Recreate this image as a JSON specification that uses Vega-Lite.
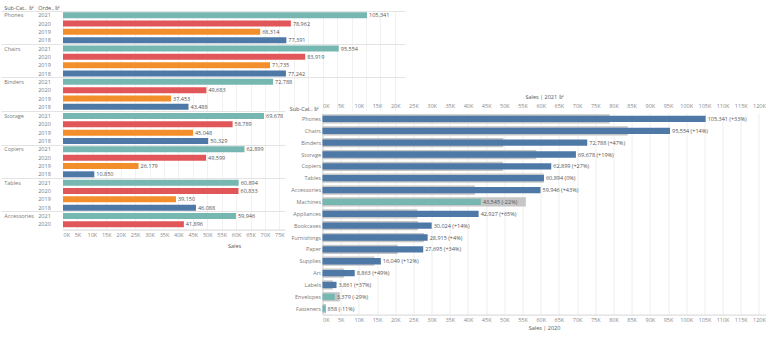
{
  "$schema": "https://vega.github.io/schema/vega-lite/v6.json",
  "padding": {"top": 5, "left": 0, "right": 0, "bottom": 0},
  "autosize": {"type": "pad"},
  "bounds": "full",
  "spacing": -17,
  "config": {
    "font": "Open Sans",
    "view": {"stroke": null},
    "axis": {"labelFontSize": 5.5, "titleFontSize": 5.5, "titleFontWeight": "normal", "labelColor": "#7a7a7a", "titleColor": "#555555", "labelOverlap": false, "ticks": false, "domain": false, "grid": false, "labelBound": false, "labelLimit": 300},
    "text": {"fontSize": 5.5}
  },
  "datasets": {
    "leftTop": [
      {"key": "Phones|2021", "sub": "Phones", "year": "2021", "sales": 105341},
      {"key": "Phones|2020", "sub": "Phones", "year": "2020", "sales": 78962},
      {"key": "Phones|2019", "sub": "Phones", "year": "2019", "sales": 68314},
      {"key": "Phones|2018", "sub": "Phones", "year": "2018", "sales": 77391},
      {"key": "Chairs|2021", "sub": "Chairs", "year": "2021", "sales": 95554},
      {"key": "Chairs|2020", "sub": "Chairs", "year": "2020", "sales": 83919},
      {"key": "Chairs|2019", "sub": "Chairs", "year": "2019", "sales": 71735},
      {"key": "Chairs|2018", "sub": "Chairs", "year": "2018", "sales": 77242},
      {"key": "Binders|2021", "sub": "Binders", "year": "2021", "sales": 72788},
      {"key": "Binders|2020", "sub": "Binders", "year": "2020", "sales": 49683},
      {"key": "Binders|2019", "sub": "Binders", "year": "2019", "sales": 37453},
      {"key": "Binders|2018", "sub": "Binders", "year": "2018", "sales": 43488}
    ],
    "leftBottom": [
      {"key": "Storage|2021", "sub": "Storage", "year": "2021", "sales": 69678},
      {"key": "Storage|2020", "sub": "Storage", "year": "2020", "sales": 58789},
      {"key": "Storage|2019", "sub": "Storage", "year": "2019", "sales": 45048},
      {"key": "Storage|2018", "sub": "Storage", "year": "2018", "sales": 50329},
      {"key": "Copiers|2021", "sub": "Copiers", "year": "2021", "sales": 62899},
      {"key": "Copiers|2020", "sub": "Copiers", "year": "2020", "sales": 49599},
      {"key": "Copiers|2019", "sub": "Copiers", "year": "2019", "sales": 26179},
      {"key": "Copiers|2018", "sub": "Copiers", "year": "2018", "sales": 10850},
      {"key": "Tables|2021", "sub": "Tables", "year": "2021", "sales": 60894},
      {"key": "Tables|2020", "sub": "Tables", "year": "2020", "sales": 60833},
      {"key": "Tables|2019", "sub": "Tables", "year": "2019", "sales": 39150},
      {"key": "Tables|2018", "sub": "Tables", "year": "2018", "sales": 46088},
      {"key": "Accessories|2021", "sub": "Accessories", "year": "2021", "sales": 59946},
      {"key": "Accessories|2020", "sub": "Accessories", "year": "2020", "sales": 41896}
    ],
    "right": [
      {"sub": "Phones", "s2021": 105341, "s2020": 78962, "change": 33, "label": "105,341 (+33%)"},
      {"sub": "Chairs", "s2021": 95554, "s2020": 83919, "change": 14, "label": "95,554 (+14%)"},
      {"sub": "Binders", "s2021": 72788, "s2020": 49683, "change": 47, "label": "72,788 (+47%)"},
      {"sub": "Storage", "s2021": 69678, "s2020": 58789, "change": 19, "label": "69,678 (+19%)"},
      {"sub": "Copiers", "s2021": 62899, "s2020": 49599, "change": 27, "label": "62,899 (+27%)"},
      {"sub": "Tables", "s2021": 60894, "s2020": 60833, "change": 0, "label": "60,894 (0%)"},
      {"sub": "Accessories", "s2021": 59946, "s2020": 41896, "change": 43, "label": "59,946 (+43%)"},
      {"sub": "Machines", "s2021": 43545, "s2020": 55906, "change": -22, "label": "43,545 (-22%)"},
      {"sub": "Appliances", "s2021": 42927, "s2020": 26050, "change": 65, "label": "42,927 (+65%)"},
      {"sub": "Bookcases", "s2021": 30024, "s2020": 26275, "change": 14, "label": "30,024 (+14%)"},
      {"sub": "Furnishings", "s2021": 28915, "s2020": 27874, "change": 4, "label": "28,915 (+4%)"},
      {"sub": "Paper", "s2021": 27695, "s2020": 20662, "change": 34, "label": "27,695 (+34%)"},
      {"sub": "Supplies", "s2021": 16049, "s2020": 14278, "change": 12, "label": "16,049 (+12%)"},
      {"sub": "Art", "s2021": 8863, "s2020": 5961, "change": 49, "label": "8,863 (+49%)"},
      {"sub": "Labels", "s2021": 3861, "s2020": 2827, "change": 37, "label": "3,861 (+37%)"},
      {"sub": "Envelopes", "s2021": 3379, "s2020": 4731, "change": -29, "label": "3,379 (-29%)"},
      {"sub": "Fasteners", "s2021": 858, "s2020": 960, "change": -11, "label": "858 (-11%)"}
    ]
  },
  "vconcat": [
    {
      "width": 342,
      "height": 100,
      "data": {"name": "leftTop"},
      "encoding": {
        "x": {"field": "sales", "type": "quantitative", "scale": {"domain": [0, 118500], "nice": false, "zero": true},
              "axis": {"values": [0, 5000, 10000, 15000, 20000, 25000, 30000, 35000, 40000, 45000, 50000, 55000, 60000, 65000, 70000, 75000, 80000, 85000, 90000, 95000, 100000, 105000, 110000, 115000], "grid": true, "gridColor": "#f1f1f1", "labels": false, "domain": false, "title": null}},
        "y": {"field": "key", "type": "nominal", "sort": null, "scale": {"paddingInner": 0.28, "paddingOuter": 0.14}, "axis": null}
      },
      "layer": [
        {
          "mark": {"type": "bar"},
          "encoding": {
            "y": {"field": "key", "type": "nominal", "sort": null, "scale": {"paddingInner": 0.28, "paddingOuter": 0.14},
                  "axis": {"orient": "left", "labelAlign": "left", "labelPadding": 25.3, "labelBaseline": "middle", "labelExpr": "split(datum.label,'|')[1]", "title": "Orde.. ⊮", "titleAngle": 0, "titleAlign": "left", "titleBaseline": "middle", "titleX": -25.3, "titleY": -4}},
            "color": {"field": "year", "type": "nominal", "scale": {"domain": ["2021", "2020", "2019", "2018"], "range": ["#76b7b2", "#e15759", "#f28e2b", "#4e79a7"]}, "legend": null}
          }
        },
        {
          "mark": {"type": "text", "align": "left", "dx": 2, "fontSize": 5.5, "color": "#555555"},
          "encoding": {"text": {"field": "sales", "type": "quantitative", "format": ",.0f"}}
        },
        {
          "mark": {"type": "point", "opacity": 0},
          "encoding": {
            "y": {"field": "key", "type": "nominal", "sort": null, "scale": {"paddingInner": 0.28, "paddingOuter": 0.14},
                  "axis": {"orient": "left", "values": ["Phones|2021", "Chairs|2021", "Binders|2021"], "labelAlign": "left", "labelPadding": 59.3, "labelBaseline": "middle", "labelExpr": "split(datum.label,'|')[0]", "title": "Sub-Cat.. ⊮", "titleAngle": 0, "titleAlign": "left", "titleBaseline": "middle", "titleX": -59.3, "titleY": -4}}
          }
        },
        {
          "mark": {"type": "point", "opacity": 0},
          "encoding": {
            "y": {"field": "key", "type": "nominal", "sort": null, "scale": {"paddingInner": 0.28, "paddingOuter": 0.14},
                  "axis": {"orient": "left", "values": ["Phones|2021", "Chairs|2021", "Binders|2021"], "labels": false, "ticks": true, "tickSize": 62, "tickColor": "#e3e3e3", "grid": true, "gridColor": "#e3e3e3", "bandPosition": -0.1944, "title": null}}
          }
        }
      ],
      "resolve": {"axis": {"y": "independent"}}
    },
    {
      "concat": [
        {
          "width": 222,
          "height": 116.6,
          "data": {"name": "leftBottom"},
          "encoding": {
            "x": {"field": "sales", "type": "quantitative", "scale": {"domain": [0, 76950], "nice": false, "zero": true},
                  "axis": {"orient": "bottom", "values": [0, 5000, 10000, 15000, 20000, 25000, 30000, 35000, 40000, 45000, 50000, 55000, 60000, 65000, 70000, 75000], "labelExpr": "datum.value/1000 + 'K'", "grid": true, "gridColor": "#f1f1f1", "domain": true, "domainColor": "#d6d6d6", "labelPadding": 3, "labelColor": "#8a8a8a", "title": "Sales", "titleX": 171, "titleY": 16, "titleBaseline": "middle"}},
            "y": {"field": "key", "type": "nominal", "sort": null, "scale": {"paddingInner": 0.28, "paddingOuter": 0.136, "align": 0}, "axis": null}
          },
          "layer": [
            {
              "mark": {"type": "bar"},
              "encoding": {
                "y": {"field": "key", "type": "nominal", "sort": null, "scale": {"paddingInner": 0.28, "paddingOuter": 0.136, "align": 0},
                      "axis": {"orient": "left", "labelAlign": "left", "labelPadding": 25.3, "labelBaseline": "middle", "labelExpr": "split(datum.label,'|')[1]", "title": null}},
                "color": {"field": "year", "type": "nominal", "scale": {"domain": ["2021", "2020", "2019", "2018"], "range": ["#76b7b2", "#e15759", "#f28e2b", "#4e79a7"]}, "legend": null}
              }
            },
            {
              "mark": {"type": "text", "align": "left", "dx": 2, "fontSize": 5.5, "color": "#555555"},
              "encoding": {"text": {"field": "sales", "type": "quantitative", "format": ",.0f"}}
            },
            {
              "mark": {"type": "point", "opacity": 0},
              "encoding": {
                "y": {"field": "key", "type": "nominal", "sort": null, "scale": {"paddingInner": 0.28, "paddingOuter": 0.136, "align": 0},
                      "axis": {"orient": "left", "values": ["Storage|2021", "Copiers|2021", "Tables|2021", "Accessories|2021"], "labelAlign": "left", "labelPadding": 59.3, "labelBaseline": "middle", "labelExpr": "split(datum.label,'|')[0]", "title": null}}
              }
            },
            {
              "mark": {"type": "point", "opacity": 0},
              "encoding": {
                "y": {"field": "key", "type": "nominal", "sort": null, "scale": {"paddingInner": 0.28, "paddingOuter": 0.136, "align": 0},
                      "axis": {"orient": "left", "values": ["Storage|2021", "Copiers|2021", "Tables|2021", "Accessories|2021"], "labels": false, "ticks": true, "tickSize": 62, "tickColor": "#e3e3e3", "grid": true, "gridColor": "#e3e3e3", "bandPosition": -0.1944, "title": null}}
              }
            }
          ],
          "resolve": {"axis": {"y": "independent"}}
        },
        {
          "width": 443,
          "height": 201.6,
          "data": {"name": "right"},
          "encoding": {
            "y": {"field": "sub", "type": "nominal", "sort": null, "scale": {"paddingInner": 0.22, "paddingOuter": 0.11},
                  "axis": {"orient": "left", "labelPadding": 2, "domain": true, "domainColor": "#d6d6d6", "title": "Sub-Cat.. ⊮", "titleAngle": 0, "titleAlign": "left", "titleBaseline": "middle", "titleX": -33.3, "titleY": -4.4}}
          },
          "layer": [
            {
              "mark": {"type": "bar", "color": "#c6c6c6"},
              "encoding": {
                "x": {"field": "s2020", "type": "quantitative", "scale": {"domain": [0, 121800], "nice": false, "zero": true},
                      "axis": {"orient": "bottom", "values": [0, 5000, 10000, 15000, 20000, 25000, 30000, 35000, 40000, 45000, 50000, 55000, 60000, 65000, 70000, 75000, 80000, 85000, 90000, 95000, 100000, 105000, 110000, 115000, 120000], "labelExpr": "datum.value/1000 + 'K'", "grid": false, "domain": true, "domainColor": "#d6d6d6", "labelPadding": 3, "titlePadding": 2, "labelColor": "#8a8a8a", "title": "Sales | 2020"}}
              }
            },
            {
              "mark": {"type": "bar", "height": {"band": 0.68}},
              "encoding": {
                "x": {"field": "s2021", "type": "quantitative", "scale": {"domain": [0, 121800], "nice": false, "zero": true},
                      "axis": {"orient": "top", "values": [0, 5000, 10000, 15000, 20000, 25000, 30000, 35000, 40000, 45000, 50000, 55000, 60000, 65000, 70000, 75000, 80000, 85000, 90000, 95000, 100000, 105000, 110000, 115000, 120000], "labelExpr": "datum.value/1000 + 'K'", "grid": true, "gridColor": "#eeeeee", "labelPadding": 4.5, "titlePadding": 4.5, "labelColor": "#8a8a8a", "title": "Sales | 2021 ⊮"}},
                "color": {"condition": {"test": "datum.change < 0", "value": "#76b7b2"}, "value": "#4e79a7"}
              }
            },
            {
              "mark": {"type": "text", "align": "left", "dx": 2, "fontSize": 5.5, "color": "#555555"},
              "encoding": {
                "x": {"field": "s2021", "type": "quantitative", "scale": {"domain": [0, 121800], "nice": false, "zero": true}, "axis": null},
                "text": {"field": "label", "type": "nominal"}
              }
            }
          ],
          "resolve": {"axis": {"x": "independent"}}
        }
      ],
      "columns": 2,
      "align": "none",
      "spacing": 3.5
    }
  ]
}
